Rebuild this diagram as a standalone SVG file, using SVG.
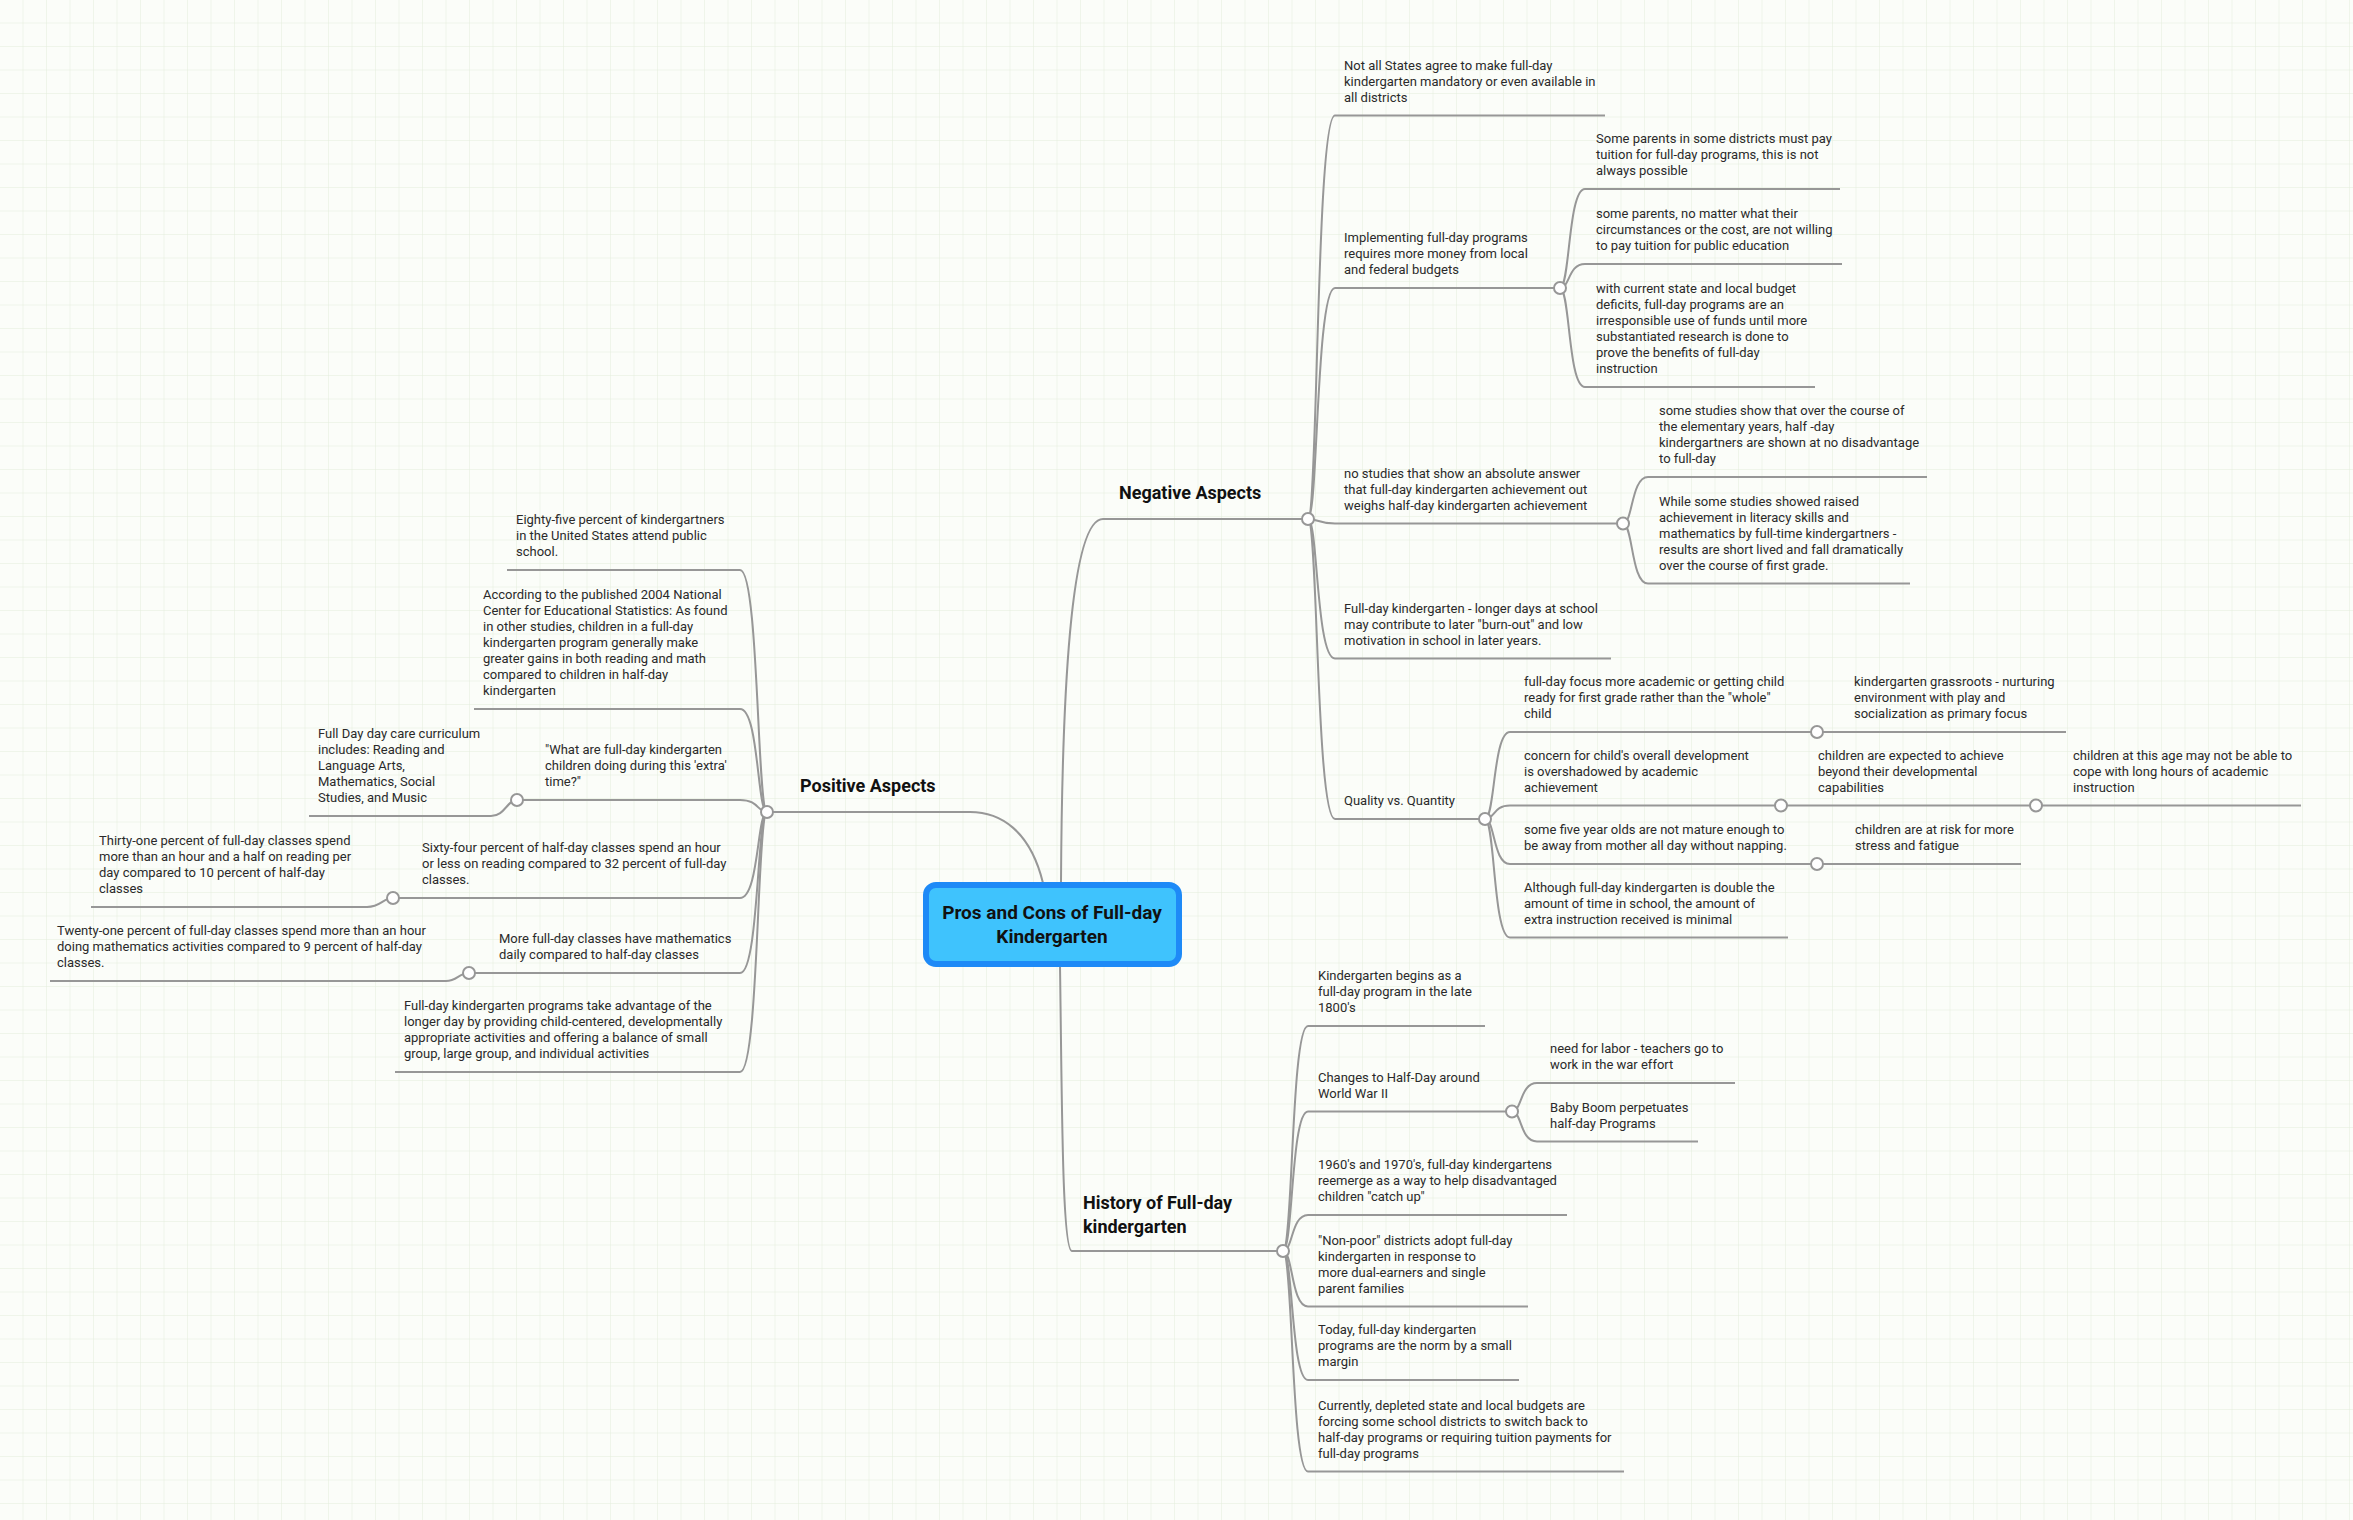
<svg xmlns="http://www.w3.org/2000/svg" width="2353" height="1520" viewBox="0 0 2353 1520">
<defs>
<pattern id="grid" width="23.5" height="23.5" patternUnits="userSpaceOnUse"><path d="M23.5 0V23.5H0" fill="none" stroke="#e4eddb" stroke-width="1"/></pattern>
<style>
.t{font-family:Roboto,"Liberation Sans",sans-serif;font-size:13px;fill:#2a2a2a}
.h{font-family:Roboto,"Liberation Sans",sans-serif;font-size:18px;font-weight:bold;fill:#111}
.c{fill:none;stroke:#979797;stroke-width:2}
.k{fill:#fff;stroke:#979797;stroke-width:2}
</style>
</defs>
<rect width="2353" height="1520" fill="#fbfdf9"/>
<rect width="2353" height="1520" fill="url(#grid)"/>
<g id="connectors">
<path class="c" d="M1061,883 C1062,700 1070,519 1103,519 L1308,519"/>
<path class="c" d="M1043,883 C1030,830 1000,812 970,812 L767,812"/>
<path class="c" d="M1060,966 C1062,1100 1062,1251 1072,1251 L1283,1251"/>
<!-- negative -->
<path class="c" d="M1308,519 C1318,519 1316,115.5 1335,115.5 L1605,115.5"/>
<path class="c" d="M1308,519 C1318,519 1316,288 1335,288 L1560,288"/>
<path class="c" d="M1308,519 C1318,519 1318,523.5 1335,523.5 L1623,523.5"/>
<path class="c" d="M1308,519 C1318,519 1316,658.5 1335,658.5 L1611,658.5"/>
<path class="c" d="M1308,519 C1318,519 1316,819 1335,819 L1485,819"/>
<path class="c" d="M1560,288 C1570,288 1568,189 1585,189 L1840,189"/>
<path class="c" d="M1560,288 C1570,288 1568,264 1585,264 L1842,264"/>
<path class="c" d="M1560,288 C1570,288 1568,387 1585,387 L1815,387"/>
<path class="c" d="M1623,523.5 C1633,523.5 1631,477 1648,477 L1927,477"/>
<path class="c" d="M1623,523.5 C1633,523.5 1631,583.5 1648,583.5 L1910,583.5"/>
<path class="c" d="M1485,819 C1495,819 1493,732 1510,732 L1817,732 L2066,732"/>
<path class="c" d="M1485,819 C1495,819 1493,805.5 1510,805.5 L1781,805.5 L2036,805.5 L2301,805.5"/>
<path class="c" d="M1485,819 C1495,819 1493,864 1510,864 L1817,864 L2021,864"/>
<path class="c" d="M1485,819 C1495,819 1493,937.5 1510,937.5 L1788,937.5"/>
<!-- history -->
<path class="c" d="M1283,1251 C1293,1251 1291,1026 1308,1026 L1485,1026"/>
<path class="c" d="M1283,1251 C1293,1251 1291,1111.5 1308,1111.5 L1512,1111.5"/>
<path class="c" d="M1283,1251 C1293,1251 1291,1215 1308,1215 L1567,1215"/>
<path class="c" d="M1283,1251 C1293,1251 1291,1306.5 1308,1306.5 L1528,1306.5"/>
<path class="c" d="M1283,1251 C1293,1251 1291,1380 1308,1380 L1519,1380"/>
<path class="c" d="M1283,1251 C1293,1251 1291,1471.5 1308,1471.5 L1624,1471.5"/>
<path class="c" d="M1512,1111.5 C1522,1111.5 1520,1083 1537,1083 L1735,1083"/>
<path class="c" d="M1512,1111.5 C1522,1111.5 1520,1141.5 1537,1141.5 L1698,1141.5"/>
<!-- positive -->
<path class="c" d="M767,812 C757,812 759,570 740,570 L507,570"/>
<path class="c" d="M767,812 C757,812 759,709 740,709 L474,709"/>
<path class="c" d="M767,812 C757,812 759,800 740,800 L517,800"/>
<path class="c" d="M767,812 C757,812 759,898 740,898 L393,898"/>
<path class="c" d="M767,812 C757,812 759,973 740,973 L469,973"/>
<path class="c" d="M767,812 C757,812 759,1072 740,1072 L395,1072"/>
<path class="c" d="M517,800 C507,800 505,816 491,816 L309,816"/>
<path class="c" d="M393,898 C383,898 381,907 367,907 L91,907"/>
<path class="c" d="M469,973 C459,973 457,981 446,981 L50,981"/>
<!-- hubs -->
<circle class="k" cx="1308" cy="519" r="6"/>
<circle class="k" cx="767" cy="812" r="6"/>
<circle class="k" cx="1283" cy="1251" r="6"/>
<circle class="k" cx="1560" cy="288" r="6"/>
<circle class="k" cx="1623" cy="523.5" r="6"/>
<circle class="k" cx="1485" cy="819" r="6"/>
<circle class="k" cx="1817" cy="732" r="6"/>
<circle class="k" cx="1781" cy="805.5" r="6"/>
<circle class="k" cx="2036" cy="805.5" r="6"/>
<circle class="k" cx="1817" cy="864" r="6"/>
<circle class="k" cx="1512" cy="1111.5" r="6"/>
<circle class="k" cx="517" cy="800" r="6"/>
<circle class="k" cx="393" cy="898" r="6"/>
<circle class="k" cx="469" cy="973" r="6"/>
</g>
<g id="central">
<rect x="926" y="885" width="253" height="79" rx="10" fill="#3fc3fd" stroke="#1e8af7" stroke-width="6"/>
<text x="1052" y="919" text-anchor="middle" font-family="Roboto,'Liberation Sans',sans-serif" font-size="19" font-weight="bold" fill="#111">Pros and Cons of Full-day</text>
<text x="1052" y="943" text-anchor="middle" font-family="Roboto,'Liberation Sans',sans-serif" font-size="19" font-weight="bold" fill="#111">Kindergarten</text>
</g>
<g id="negative"><text class="h" x="1119" y="499">Negative Aspects</text></g>
<g id="positive"><text class="h" x="800" y="792">Positive Aspects</text></g>
<g id="history"><text class="h" x="1083" y="1209">History of Full-day</text><text class="h" x="1083" y="1233">kindergarten</text></g>
<g id="n1"><text class="t" x="1344" y="70">Not all States agree to make full-day</text><text class="t" x="1344" y="86">kindergarten mandatory or even available in</text><text class="t" x="1344" y="102">all districts</text></g>
<g id="n2"><text class="t" x="1344" y="242">Implementing full-day programs</text><text class="t" x="1344" y="258">requires more money from local</text><text class="t" x="1344" y="274">and federal budgets</text></g>
<g id="n3"><text class="t" x="1344" y="477.5">no studies that show an absolute answer</text><text class="t" x="1344" y="493.5">that full-day kindergarten achievement out</text><text class="t" x="1344" y="509.5">weighs half-day kindergarten achievement</text></g>
<g id="n4"><text class="t" x="1344" y="612.5">Full-day kindergarten - longer days at school</text><text class="t" x="1344" y="628.5">may contribute to later "burn-out" and low</text><text class="t" x="1344" y="644.5">motivation in school in later years.</text></g>
<g id="n5"><text class="t" x="1344" y="805">Quality vs. Quantity</text></g>
<g id="n2a"><text class="t" x="1596" y="143">Some parents in some districts must pay</text><text class="t" x="1596" y="159">tuition for full-day programs, this is not</text><text class="t" x="1596" y="175">always possible</text></g>
<g id="n2b"><text class="t" x="1596" y="218">some parents, no matter what their</text><text class="t" x="1596" y="234">circumstances or the cost, are not willing</text><text class="t" x="1596" y="250">to pay tuition for public education</text></g>
<g id="n2c"><text class="t" x="1596" y="293">with current state and local budget</text><text class="t" x="1596" y="309">deficits, full-day programs are an</text><text class="t" x="1596" y="325">irresponsible use of funds until more</text><text class="t" x="1596" y="341">substantiated research is done to</text><text class="t" x="1596" y="357">prove the benefits of full-day</text><text class="t" x="1596" y="373">instruction</text></g>
<g id="n3a"><text class="t" x="1659" y="415">some studies show that over the course of</text><text class="t" x="1659" y="431">the elementary years, half -day</text><text class="t" x="1659" y="447">kindergartners are shown at no disadvantage</text><text class="t" x="1659" y="463">to full-day</text></g>
<g id="n3b"><text class="t" x="1659" y="505.5">While some studies showed raised</text><text class="t" x="1659" y="521.5">achievement in literacy skills and</text><text class="t" x="1659" y="537.5">mathematics by full-time kindergartners -</text><text class="t" x="1659" y="553.5">results are short lived and fall dramatically</text><text class="t" x="1659" y="569.5">over the course of first grade.</text></g>
<g id="q1"><text class="t" x="1524" y="686">full-day focus more academic or getting child</text><text class="t" x="1524" y="702">ready for first grade rather than the "whole"</text><text class="t" x="1524" y="718">child</text></g>
<g id="q1a"><text class="t" x="1854" y="686">kindergarten grassroots - nurturing</text><text class="t" x="1854" y="702">environment with play and</text><text class="t" x="1854" y="718">socialization as primary focus</text></g>
<g id="q2"><text class="t" x="1524" y="759.5">concern for child's overall development</text><text class="t" x="1524" y="775.5">is overshadowed by academic</text><text class="t" x="1524" y="791.5">achievement</text></g>
<g id="q2a"><text class="t" x="1818" y="759.5">children are expected to achieve</text><text class="t" x="1818" y="775.5">beyond their developmental</text><text class="t" x="1818" y="791.5">capabilities</text></g>
<g id="q2b"><text class="t" x="2073" y="759.5">children at this age may not be able to</text><text class="t" x="2073" y="775.5">cope with long hours of academic</text><text class="t" x="2073" y="791.5">instruction</text></g>
<g id="q3"><text class="t" x="1524" y="834">some five year olds are not mature enough to</text><text class="t" x="1524" y="850">be away from mother all day without napping.</text></g>
<g id="q3a"><text class="t" x="1855" y="834">children are at risk for more</text><text class="t" x="1855" y="850">stress and fatigue</text></g>
<g id="q4"><text class="t" x="1524" y="891.5">Although full-day kindergarten is double the</text><text class="t" x="1524" y="907.5">amount of time in school, the amount of</text><text class="t" x="1524" y="923.5">extra instruction received is minimal</text></g>
<g id="h1"><text class="t" x="1318" y="980">Kindergarten begins as a</text><text class="t" x="1318" y="996">full-day program in the late</text><text class="t" x="1318" y="1012">1800's</text></g>
<g id="h2"><text class="t" x="1318" y="1081.5">Changes to Half-Day around</text><text class="t" x="1318" y="1097.5">World War II</text></g>
<g id="h2a"><text class="t" x="1550" y="1053">need for labor - teachers go to</text><text class="t" x="1550" y="1069">work in the war effort</text></g>
<g id="h2b"><text class="t" x="1550" y="1111.5">Baby Boom perpetuates</text><text class="t" x="1550" y="1127.5">half-day Programs</text></g>
<g id="h3"><text class="t" x="1318" y="1169">1960's and 1970's, full-day kindergartens</text><text class="t" x="1318" y="1185">reemerge as a way to help disadvantaged</text><text class="t" x="1318" y="1201">children "catch up"</text></g>
<g id="h4"><text class="t" x="1318" y="1244.5">"Non-poor" districts adopt full-day</text><text class="t" x="1318" y="1260.5">kindergarten in response to</text><text class="t" x="1318" y="1276.5">more dual-earners and single</text><text class="t" x="1318" y="1292.5">parent families</text></g>
<g id="h5"><text class="t" x="1318" y="1334">Today, full-day kindergarten</text><text class="t" x="1318" y="1350">programs are the norm by a small</text><text class="t" x="1318" y="1366">margin</text></g>
<g id="h6"><text class="t" x="1318" y="1409.5">Currently, depleted state and local budgets are</text><text class="t" x="1318" y="1425.5">forcing some school districts to switch back to</text><text class="t" x="1318" y="1441.5">half-day programs or requiring tuition payments for</text><text class="t" x="1318" y="1457.5">full-day programs</text></g>
<g id="p1"><text class="t" x="516" y="524">Eighty-five percent of kindergartners</text><text class="t" x="516" y="540">in the United States attend public</text><text class="t" x="516" y="556">school.</text></g>
<g id="p2"><text class="t" x="483" y="599">According to the published 2004 National</text><text class="t" x="483" y="615">Center for Educational Statistics: As found</text><text class="t" x="483" y="631">in other studies, children in a full-day</text><text class="t" x="483" y="647">kindergarten program generally make</text><text class="t" x="483" y="663">greater gains in both reading and math</text><text class="t" x="483" y="679">compared to children in half-day</text><text class="t" x="483" y="695">kindergarten</text></g>
<g id="p3"><text class="t" x="545" y="754">"What are full-day kindergarten</text><text class="t" x="545" y="770">children doing during this 'extra'</text><text class="t" x="545" y="786">time?"</text></g>
<g id="p3a"><text class="t" x="318" y="738">Full Day day care curriculum</text><text class="t" x="318" y="754">includes: Reading and</text><text class="t" x="318" y="770">Language Arts,</text><text class="t" x="318" y="786">Mathematics, Social</text><text class="t" x="318" y="802">Studies, and Music</text></g>
<g id="p4"><text class="t" x="422" y="852">Sixty-four percent of half-day classes spend an hour</text><text class="t" x="422" y="868">or less on reading compared to 32 percent of full-day</text><text class="t" x="422" y="884">classes.</text></g>
<g id="p4a"><text class="t" x="99" y="845">Thirty-one percent of full-day classes spend</text><text class="t" x="99" y="861">more than an hour and a half on reading per</text><text class="t" x="99" y="877">day compared to 10 percent of half-day</text><text class="t" x="99" y="893">classes</text></g>
<g id="p5"><text class="t" x="499" y="943">More full-day classes have mathematics</text><text class="t" x="499" y="959">daily compared to half-day classes</text></g>
<g id="p5a"><text class="t" x="57" y="935">Twenty-one percent of full-day classes spend more than an hour</text><text class="t" x="57" y="951">doing mathematics activities compared to 9 percent of half-day</text><text class="t" x="57" y="967">classes.</text></g>
<g id="p6"><text class="t" x="404" y="1010">Full-day kindergarten programs take advantage of the</text><text class="t" x="404" y="1026">longer day by providing child-centered, developmentally</text><text class="t" x="404" y="1042">appropriate activities and offering a balance of small</text><text class="t" x="404" y="1058">group, large group, and individual activities</text></g>
</svg>
